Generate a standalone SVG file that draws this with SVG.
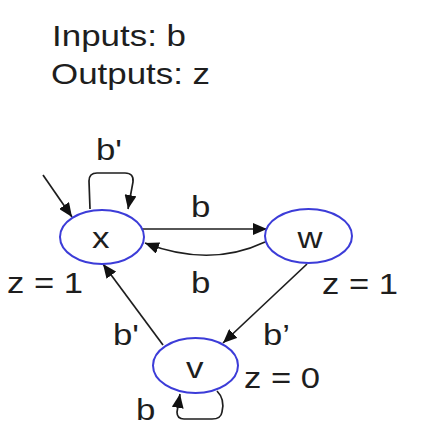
<svg xmlns="http://www.w3.org/2000/svg" width="427" height="441" viewBox="0 0 427 441">
<defs>
<style>
text{font-family:"Liberation Sans",Arial,sans-serif;font-size:29px;fill:#1e1e1e}
.st{fill:none;stroke:#3c3cd8;stroke-width:2}
.e{fill:none;stroke:#1e1e1e;stroke-width:1.7}
</style>
<marker id="ah" markerUnits="userSpaceOnUse" markerWidth="15" markerHeight="12" refX="14" refY="6" orient="auto">
<path d="M0,0 L14,6 L0,12 Z" fill="#111"/>
</marker>
</defs>
<rect width="427" height="441" fill="#fff"/>
<g id="header">
<text x="52" y="46" textLength="134" lengthAdjust="spacingAndGlyphs">Inputs: b</text>
<text x="51" y="84" textLength="159" lengthAdjust="spacingAndGlyphs">Outputs: z</text>
</g>
<g id="connectors">
<path class="e" d="M43,175 L72,217" marker-end="url(#ah)"/>
<path class="e" d="M90,209 L89,181 Q89,173 97,173 L125,173 Q134,173 133,182 L128,209" marker-end="url(#ah)"/>
<path class="e" d="M142,229 L267,229" marker-end="url(#ah)"/>
<path class="e" d="M265,242 Q210,268 145,243" marker-end="url(#ah)"/>
<path class="e" d="M163,345 L103,264" marker-end="url(#ah)"/>
<path class="e" d="M307,264 L223,343" marker-end="url(#ah)"/>
<path class="e" d="M217,391 C222,396 224,404 222,412 Q221,419 212,419 L184,419 Q177,419 177,412 L180,394" marker-end="url(#ah)"/>
<text x="96" y="160" textLength="26" lengthAdjust="spacingAndGlyphs">b'</text>
<text x="191" y="217" textLength="19.4" lengthAdjust="spacingAndGlyphs">b</text>
<text x="191" y="293" textLength="19.4" lengthAdjust="spacingAndGlyphs">b</text>
<text x="113" y="345" textLength="26" lengthAdjust="spacingAndGlyphs">b'</text>
<text x="263" y="345" textLength="27" lengthAdjust="spacingAndGlyphs">b’</text>
<text x="136" y="420" textLength="19.4" lengthAdjust="spacingAndGlyphs">b</text>
</g>
<g id="node-x">
<ellipse class="st" cx="102" cy="237" rx="42" ry="27"/>
<text x="92" y="248" textLength="17.5" lengthAdjust="spacingAndGlyphs">x</text>
<text x="7" y="293" textLength="76" lengthAdjust="spacingAndGlyphs">z = 1</text>
</g>
<g id="node-w">
<ellipse class="st" cx="308.5" cy="236" rx="43.5" ry="27"/>
<text x="297.5" y="248" textLength="25" lengthAdjust="spacingAndGlyphs">w</text>
<text x="322" y="294" textLength="76" lengthAdjust="spacingAndGlyphs">z = 1</text>
</g>
<g id="node-v">
<ellipse class="st" cx="195.5" cy="365.5" rx="42.5" ry="27.5"/>
<text x="186" y="378" textLength="17.5" lengthAdjust="spacingAndGlyphs">v</text>
<text x="244" y="388" textLength="76" lengthAdjust="spacingAndGlyphs">z = 0</text>
</g>
</svg>
